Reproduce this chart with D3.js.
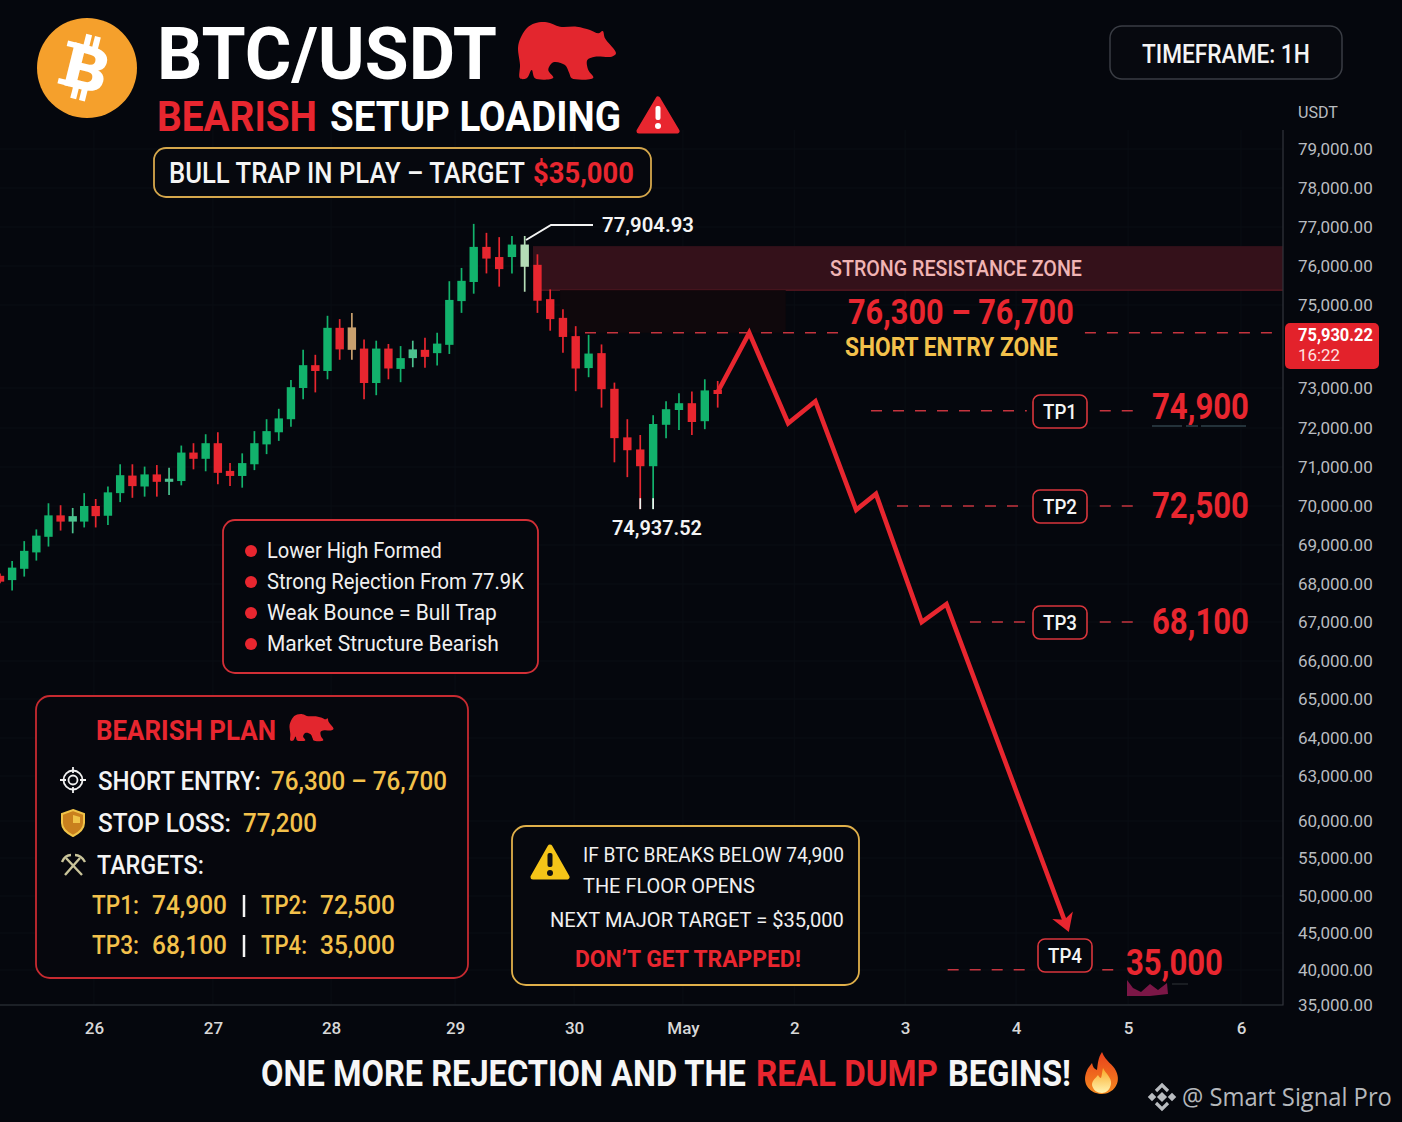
<!DOCTYPE html>
<html lang="en">
<head>
  <meta charset="UTF-8">
  <title>BTC/USDT Bearish Setup</title>
  <script src="https://d3js.org/d3.v7.min.js"></script>
  <style>
    html, body { margin: 0; background: #05070d; }
    svg { display: block; }
    text { font-family: "Roboto", sans-serif; }
    .axis path, .axis line { stroke: none; }
    .y-axis text { font-size: 17px; fill: #b9bcc0; font-family: "Roboto", sans-serif; }
    .x-axis text { font-size: 17px; fill: #d8d8d8; font-weight: 500; font-family: "Roboto", sans-serif; }
  </style>
</head>
<body>
<svg id="chart" width="1402" height="1122"></svg>

<script>
  // candles, oldest first (axis units as printed on the picture)
  const candleOpen = [68210,68100,68390,68810,69210,69760,69600,69600,70000,69750,70330,70780,70500,70810,70620,70640,71370,71210,71610,70900,70770,71070,71580,71890,72220,73000,73550,73410,74450,74460,73950,73120,73950,73460,73720,73920,73840,74040,75100,75590,76490,76230,76230,75980,76030,75150,74690,74250,73480,73840,72980,71760,71450,71020,72080,72450,72620,72170,72950];
  const candleClose = [68060,68420,68850,69240,69760,69600,69740,70000,69740,70350,70790,70510,70810,70620,70700,71370,71210,71610,70850,70770,71100,71610,71920,72240,73020,73550,73410,74450,73930,73920,73120,73950,73470,73720,73930,73750,74070,75130,75620,76490,76190,75920,76550,76550,75110,74660,74230,73470,73830,72970,71740,71430,71020,72100,72470,72620,72150,72940,72850];
  const candleHigh = [68270,68590,69100,69400,70070,70020,69950,70330,70180,70500,71070,71070,71010,71050,70980,71550,71610,71840,71890,71100,71350,71920,72220,72480,73190,73920,73800,74740,74660,74810,74170,74140,74060,74010,74140,74210,74330,75610,75950,77080,76850,76740,76770,76770,76300,75400,74900,74490,74280,74050,73130,72220,71820,72320,72670,72870,72910,73210,73170];
  const candleLow = [68020,67830,68190,68600,68960,69370,69300,69450,69450,69510,70100,70210,70240,70240,70280,70530,70940,70890,70560,70510,70470,70920,71330,71670,72030,72720,72890,73210,73680,73680,72720,72820,73210,73140,73500,73490,73540,73820,74810,75290,75810,75470,75810,75340,74810,74380,73850,72920,73260,72510,71120,70740,69920,69920,71740,71950,71820,71970,72510];
  const paleCandles = [6, 14, 34];
  const projIndex = [58, 60.55, 63.7, 65.9, 69.2, 70.8, 74.5, 76.5, 86.4];
  const projPrice = [72900, 74330, 72120, 72670, 69900, 70310, 67000, 67470, 45130];

  const priceTicks = [79000,78000,77000,76000,75000,73000,72000,71000,70000,69000,68000,67000,66000,65000,64000,63000,60000,55000,50000,45000,40000,35000];
  const dayTicks = [7.85,17.6,27.29,37.47,46.87,55.31,64.19,73.16,82.13,91.19,100.32];
  const dayLabels = ["26","27","28","29","30","May","2","3","4","5","6"];

  const entryLevel = 74330;
  const zoneTop = 76510, zoneBottom = 75380;
  const tpNames = ["TP1","TP2","TP3","TP4"];
  const tpAxisLevel = [72430, 70000, 67000, 40030];
  const tpLabels = ["74,900","72,500","68,100","35,000"];
  const bulletLines = ["Lower High Formed","Strong Rejection From 77.9K","Weak Bounce = Bull Trap","Market Structure Bearish"];

  const RED = "#e8262f", GREEN = "#12b26c", GOLD = "#f3c14b", WHITE = "#f4f4f4";

  const svg = d3.select("#chart");

  // background + scales. Neither axis of the picture is even, so both are piecewise
  svg.append("rect").attr("width", 1402).attr("height", 1122).attr("fill", "#05070d");

  const xEnd = 103.72;
  const x = d3.scaleLinear()
    .domain([0, 6, 8, 15, 39, 47, 58, xEnd])
    .range([0, 72.7, 95.7, 181.3, 473.7, 575.7, 717.7, 1283]);
  const y = d3.scaleLinear()
    .domain(priceTicks)
    .range([149,188,227,266,305,388,428,467,506,545,584,622,661,699,738,776,821,858,896,933,970,1005]);

  // text squeezed to the reference width, the original font is narrower than Roboto
  function label(x0, x1, base, str, size, weight, fill, family) {
    const t = svg.append("text")
      .attr("font-size", size).attr("font-weight", weight).attr("fill", fill)
      .text(str);
    if (family) t.style("font-family", family);
    const sx = (x1 - x0) / t.node().getComputedTextLength();
    t.attr("transform", `translate(${x0},${base}) scale(${sx},1)`);
    return t;
  }

  function box(x0, y0, x1, y1, r, stroke, sw, fill) {
    svg.append("rect")
      .attr("x", x0).attr("y", y0).attr("width", x1 - x0).attr("height", y1 - y0).attr("rx", r)
      .attr("fill", fill || "none").attr("stroke", stroke).attr("stroke-width", sw || 1.6);
  }

  // grid
  const grid = svg.append("g").attr("stroke", "#0a0e14").attr("stroke-width", 1);
  priceTicks.forEach(p => grid.append("line").attr("x1", 0).attr("x2", x(xEnd)).attr("y1", y(p)).attr("y2", y(p)));
  dayTicks.forEach(d => grid.append("line").attr("x1", x(d)).attr("x2", x(d)).attr("y1", 130).attr("y2", 1005));

  // resistance zone
  svg.append("rect").attr("x", x(43.65)).attr("width", x(xEnd) - x(43.65))
    .attr("y", y(zoneTop)).attr("height", y(zoneBottom) - y(zoneTop)).attr("fill", "#34111a");
  svg.append("line").attr("x1", x(43.65)).attr("x2", x(xEnd)).attr("y1", y(zoneBottom)).attr("y2", y(zoneBottom))
    .attr("stroke", "#6a1c26").attr("stroke-width", 1);
  svg.append("rect").attr("x", x(45.77)).attr("width", x(63.5) - x(45.77))
    .attr("y", y(zoneBottom)).attr("height", y(entryLevel) - y(zoneBottom)).attr("fill", "#0f080c");

  // chart frame
  svg.append("path").attr("d", `M${x(xEnd)},130V${y(35000)}H0`).attr("fill", "none").attr("stroke", "#33363c").attr("stroke-width", 1.2);

  // axes
  svg.append("g").attr("class", "axis y-axis")
    .attr("transform", `translate(${x(xEnd)},0)`)
    .call(d3.axisRight(y).tickValues(priceTicks).tickSize(0).tickPadding(15).tickFormat(d3.format(",.2f")));
  svg.append("g").attr("class", "axis x-axis")
    .attr("transform", `translate(0,${y(35000)})`)
    .call(d3.axisBottom(x).tickValues(dayTicks).tickSize(0).tickPadding(17).tickFormat((d, i) => dayLabels[i]));
  label(1298, 1338, 118, "USDT", 17, 400, "#b9bcc0");

  // dashed levels, gaps leave room for labels
  const dash = (a, b, level) => svg.append("line")
    .attr("x1", x(a)).attr("x2", x(b)).attr("y1", y(level)).attr("y2", y(level))
    .attr("stroke", "#c5343e").attr("stroke-width", 1.6).attr("stroke-dasharray", "11 11");
  dash(47.72, 67.9, entryLevel);
  dash(87.7, 103.7, entryLevel);
  [[70.4, 83, 88.9, 92.2], [72.5, 83, 88.9, 92.2], [78.4, 83, 88.9, 92.2], [76.6, 83.3, 89.1, 90.1]].forEach((s, i) => {
    dash(s[0], s[1], tpAxisLevel[i]);
    dash(s[2], s[3], tpAxisLevel[i]);
  });

  // candles
  const candles = d3.range(candleOpen.length);
  const colour = i => {
    if (i === 29) return "#c9a06e";
    if (i === 43) return "#b4dcb6";
    if (paleCandles.includes(i)) return "#4cc28f";
    return candleClose[i] >= candleOpen[i] ? GREEN : RED;
  };
  const gC = svg.append("g");
  gC.selectAll(".wick").data(candles).join("line").attr("class", "wick")
    .attr("x1", i => x(i)).attr("x2", i => x(i))
    .attr("y1", i => y(candleHigh[i])).attr("y2", i => y(candleLow[i]))
    .attr("stroke", colour).attr("stroke-width", 1.7);
  gC.selectAll(".body").data(candles).join("rect").attr("class", "body")
    .attr("x", i => x(i) - 4.2).attr("width", 8.4)
    .attr("y", i => y(Math.max(candleOpen[i], candleClose[i])))
    .attr("height", i => Math.max(2, Math.abs(y(candleOpen[i]) - y(candleClose[i]))))
    .attr("fill", colour);
  // white tails on the two low wicks
  gC.selectAll(".tail").data([52, 53]).join("line").attr("class", "tail")
    .attr("x1", i => x(i)).attr("x2", i => x(i))
    .attr("y1", () => y(70200)).attr("y2", i => y(candleLow[i]))
    .attr("stroke", "#eef2ee").attr("stroke-width", 1.7);

  // projected path
  const proj = projIndex.map((d, i) => [x(d), y(projPrice[i])]);
  const line = d3.line();
  const tip = proj[8], prev = proj[7];
  const ang = Math.atan2(tip[1] - prev[1], tip[0] - prev[0]);
  const pt = (d, a) => [tip[0] - d * Math.cos(ang + a), tip[1] - d * Math.sin(ang + a)];
  svg.append("path").attr("d", line(proj.slice(0, -1).concat([pt(12, 0)])))
    .attr("fill", "none").attr("stroke", RED).attr("stroke-width", 4.6).attr("stroke-linejoin", "miter");
  svg.append("path").attr("d", line([tip, pt(21, 0.55), pt(13, 0), pt(21, -0.55)]) + "Z").attr("fill", RED);

  // high / low callouts
  svg.append("path").attr("d", "M526,240L551,225H593").attr("fill", "none").attr("stroke", WHITE).attr("stroke-width", 2);
  label(602, 694, 232, "77,904.93", 21, 600, WHITE);
  label(612, 702, 535, "74,937.52", 21, 600, WHITE);

  // zone text
  label(830, 1082, 276, "STRONG RESISTANCE ZONE", 22, 500, "#f0b4b4");
  label(848, 1074, 324, "76,300 – 76,700", 35, 700, RED);
  label(845, 1058, 356, "SHORT ENTRY ZONE", 25, 700, GOLD);

  // TP tags
  const tpBox = [[1033,395,1087,428],[1033,490,1087,523],[1033,606,1087,639],[1038,939,1092,972]];
  const tpText = [[1152,1249,419],[1152,1249,518],[1152,1249,634],[1126,1223,975]];
  tpNames.forEach((n, i) => {
    const b = tpBox[i], t = tpText[i];
    box(b[0], b[1], b[2], b[3], 7, "#d9363c", 1.6, "#05070d");
    label(b[0] + 10, b[2] - 10, b[1] + 24, n, 21, 500, WHITE);
    label(t[0], t[1], t[2], tpLabels[i], 37, 700, RED);
  });
  // compression smudges under two of the labels
  svg.append("line").attr("x1", 1152).attr("x2", 1248).attr("y1", 426).attr("y2", 426)
    .attr("stroke", "#24323a").attr("stroke-width", 2).attr("stroke-dasharray", "30 4 12 3 45");
  svg.append("path").attr("d", "M1127,980L1133,988L1141,992L1150,984L1158,990L1167,983L1168,994L1150,996L1127,996Z").attr("fill", "#7c1747");
  svg.append("line").attr("x1", 1172).attr("x2", 1188).attr("y1", 984).attr("y2", 984).attr("stroke", "#1a1d22").attr("stroke-width", 2);

  // current price tag
  svg.append("rect").attr("x", 1285).attr("y", y(74010) - 23).attr("width", 94).attr("height", 46).attr("rx", 5).attr("fill", "#e3222b");
  label(1298, 1373, y(74010) - 5, "75,930.22", 17.5, 700, "#ffffff");
  label(1298, 1340, y(74010) + 15, "16:22", 17, 400, "#ffe2e2");

  // header
  svg.append("circle").attr("cx", 87).attr("cy", 68).attr("r", 50).attr("fill", "#f5a02c");
  const btc = svg.append("g").attr("transform", "translate(87,68) rotate(14)");
  btc.append("text").attr("text-anchor", "middle").attr("y", 22).attr("font-size", 62).attr("font-weight", 900).attr("fill", "#fff")
    .attr("transform", "scale(1.08,1)").text("B");
  [[-9, -33], [0, -33], [-9, 20], [0, 20]].forEach(p =>
    btc.append("rect").attr("x", p[0]).attr("y", p[1]).attr("width", 6).attr("height", 13).attr("fill", "#fff"));
  btc.append("rect").attr("x", -25).attr("y", -22).attr("width", 12).attr("height", 5.5).attr("fill", "#fff");
  btc.append("rect").attr("x", -25).attr("y", 16.5).attr("width", 12).attr("height", 5.5).attr("fill", "#fff");

  label(157, 497, 79, "BTC/USDT", 73, 700, "#ffffff");
  const bearOutline = [[1.3,23],[9.7,6.3],[18,1.3],[29.7,0.3],[43,4.7],[59.7,4.7],[73,8],[81.3,11.3],[85.7,9],[88,16.3],[99,31.3],[94.7,34.7],[78,34.7],[70.3,38],[71.3,48],[76.3,55.7],[54.7,56.3],[52.3,51.3],[48,43],[36.3,40.3],[31.3,48],[36.3,55.7],[18,56.3],[14.7,48],[9.7,56.3],[3,56.3],[3,43]];
  const bearPath = d3.line().curve(d3.curveCatmullRomClosed.alpha(0.5))(bearOutline);
  svg.append("path").attr("d", bearPath).attr("transform", "translate(517,22)").attr("fill", "#e3262e");

  label(157, 317, 131, "BEARISH", 43, 700, RED);
  label(330, 621, 131, "SETUP LOADING", 43, 700, "#ffffff");
  svg.append("path").attr("d", "M658,99L677,131H639Z").attr("fill", RED).attr("stroke", RED).attr("stroke-width", 5).attr("stroke-linejoin", "round");
  svg.append("rect").attr("x", 655.5).attr("y", 106).attr("width", 5).attr("height", 14).attr("rx", 2).attr("fill", "#fff");
  svg.append("circle").attr("cx", 658).attr("cy", 126).attr("r", 3).attr("fill", "#fff");

  box(154, 148, 651, 197, 12, "#d5a74c", 1.8, "#06080e");
  label(169, 525, 183, "BULL TRAP IN PLAY – TARGET", 30, 500, "#f4f4f4");
  label(533, 634, 183, "$35,000", 30, 700, RED);

  box(1110, 26, 1342, 79, 12, "#3a3d44", 1.5, "#07090f");
  label(1142, 1310, 63, "TIMEFRAME: 1H", 26, 500, "#f4f4f4");

  // bullet box
  box(223, 520, 538, 673, 12, "#d22f36", 1.8, "#05070d");
  const bulletEnds = [442, 524, 497, 499];
  bulletLines.forEach((s, i) => {
    const cy = 551 + i * 31;
    svg.append("circle").attr("cx", 251).attr("cy", cy).attr("r", 6).attr("fill", RED);
    label(267, bulletEnds[i], cy + 6.5, s, 21.5, 400, "#f0f0f0");
  });

  // plan box
  box(36, 696, 468, 978, 14, "#c72a30", 1.8, "#06070d");
  label(96, 276, 740, "BEARISH PLAN", 28, 700, RED);
  svg.append("path").attr("d", bearPath).attr("transform", "translate(289,714) scale(0.45,0.47)").attr("fill", "#e3262e");

  label(98, 261, 790, "SHORT ENTRY:", 26, 500, "#f4f4f4");
  label(271, 447, 790, "76,300 – 76,700", 26, 500, GOLD);
  label(98, 231, 832, "STOP LOSS:", 26, 500, "#f4f4f4");
  label(243, 317, 832, "77,200", 26, 500, GOLD);
  label(97, 204, 874, "TARGETS:", 26, 500, "#f4f4f4");

  label(92, 139, 914, "TP1:", 26, 500, GOLD);
  label(152, 227, 914, "74,900", 26, 500, GOLD);
  label(261, 307, 914, "TP2:", 26, 500, GOLD);
  label(320, 395, 914, "72,500", 26, 500, GOLD);
  label(92, 139, 954, "TP3:", 26, 500, GOLD);
  label(152, 227, 954, "68,100", 26, 500, GOLD);
  label(261, 307, 954, "TP4:", 26, 500, GOLD);
  label(320, 395, 954, "35,000", 26, 500, GOLD);
  [[244, 895, 917], [244, 935, 957]].forEach(p => svg.append("line")
    .attr("x1", p[0]).attr("x2", p[0]).attr("y1", p[1]).attr("y2", p[2]).attr("stroke", "#f4f4f4").attr("stroke-width", 2.5));

  // target icon
  const icon = svg.append("g").attr("transform", "translate(73,780)").attr("fill", "none").attr("stroke", "#f0f0f0").attr("stroke-width", 1.8);
  icon.append("circle").attr("r", 9.5);
  icon.append("circle").attr("r", 4.5);
  icon.append("path").attr("d", "M0,-13V-7M0,13V7M-13,0H-7M13,0H7");
  // shield icon
  svg.append("path").attr("d", "M73,810L84,814V823C84,829 79,833 73,836C67,833 62,829 62,823V814Z")
    .attr("fill", "#c9801e").attr("stroke", "#f0c348").attr("stroke-width", 2);
  svg.append("path").attr("d", "M73,815L80,817V823H73Z").attr("fill", "#f0c348");
  // hammers icon
  const hammers = svg.append("g").attr("fill", "none").attr("stroke", "#c9c49a").attr("stroke-width", 2.4);
  hammers.append("path").attr("d", "M65,875L80,858M82,875L66,858");
  hammers.append("path").attr("d", "M75,855Q81,855 85,862M71,855Q65,855 62,862");

  // alert box
  box(512, 826, 859, 985, 14, "#e0b04a", 1.8, "#06080e");
  svg.append("path").attr("d", "M550,847L567,877H533Z").attr("fill", "#f5c518").attr("stroke", "#f5c518").attr("stroke-width", 5).attr("stroke-linejoin", "round");
  svg.append("rect").attr("x", 547.5).attr("y", 853).attr("width", 5).attr("height", 14).attr("rx", 2).attr("fill", "#111");
  svg.append("circle").attr("cx", 550).attr("cy", 873).attr("r", 3).attr("fill", "#111");
  label(583, 844, 862, "IF BTC BREAKS BELOW 74,900", 21, 400, "#f0f0f0");
  label(583, 755, 893, "THE FLOOR OPENS", 21, 400, "#f0f0f0");
  label(550, 844, 927, "NEXT MAJOR TARGET = $35,000", 21, 400, "#f0f0f0");
  label(575, 801, 967, "DON’T GET TRAPPED!", 24, 700, RED);

  // footer
  label(261, 746, 1086, "ONE MORE REJECTION AND THE", 37, 700, "#f6f6f6");
  label(756, 938, 1086, "REAL DUMP", 37, 700, RED);
  label(948, 1071, 1086, "BEGINS!", 37, 700, "#f6f6f6");

  // flame
  const defs = svg.append("defs");
  const flame = defs.append("linearGradient").attr("id", "flame").attr("x1", 0).attr("y1", 0).attr("x2", 0).attr("y2", 1);
  flame.append("stop").attr("offset", "0%").attr("stop-color", "#e8401c");
  flame.append("stop").attr("offset", "100%").attr("stop-color", "#f58a1f");
  const inner = defs.append("linearGradient").attr("id", "flameInner").attr("x1", 0).attr("y1", 0).attr("x2", 0).attr("y2", 1);
  inner.append("stop").attr("offset", "0%").attr("stop-color", "#f9a825");
  inner.append("stop").attr("offset", "100%").attr("stop-color", "#fff3b0");
  svg.append("path").attr("d", "M1102,1052C1106,1062 1113,1064 1116,1071C1122,1083 1113,1094 1102,1094C1091,1094 1082,1085 1086,1073C1088,1067 1090,1066 1092,1063C1093,1067 1094,1069 1097,1070C1098,1063 1098,1058 1102,1052Z").attr("fill", "url(#flame)");
  svg.append("path").attr("d", "M1103,1068C1106,1074 1112,1078 1111,1084C1110,1090 1106,1093 1102,1093C1097,1093 1093,1090 1092,1085C1092,1080 1096,1078 1098,1075C1099,1077 1100,1078 1101,1078C1102,1075 1102,1072 1103,1068Z").attr("fill", "url(#flameInner)");

  // watermark
  const mark = svg.append("g").attr("transform", "translate(1162,1097)").attr("fill", "#b9bcc0");
  [[0, 0, 3.6], [-10, 0, 3], [10, 0, 3]].forEach(p =>
    mark.append("rect").attr("x", p[0] - p[2]).attr("y", p[1] - p[2]).attr("width", 2 * p[2]).attr("height", 2 * p[2])
      .attr("transform", `rotate(45 ${p[0]} ${p[1]})`));
  mark.append("path").attr("d", "M-6,-6L0,-12L6,-6M-6,6L0,12L6,6").attr("fill", "none").attr("stroke", "#b9bcc0").attr("stroke-width", 3.2);
  label(1182, 1392, 1106, "@ Smart Signal Pro", 26, 400, "#b5b8bc", '"Open Sans", sans-serif');
</script>
</body>
</html>
